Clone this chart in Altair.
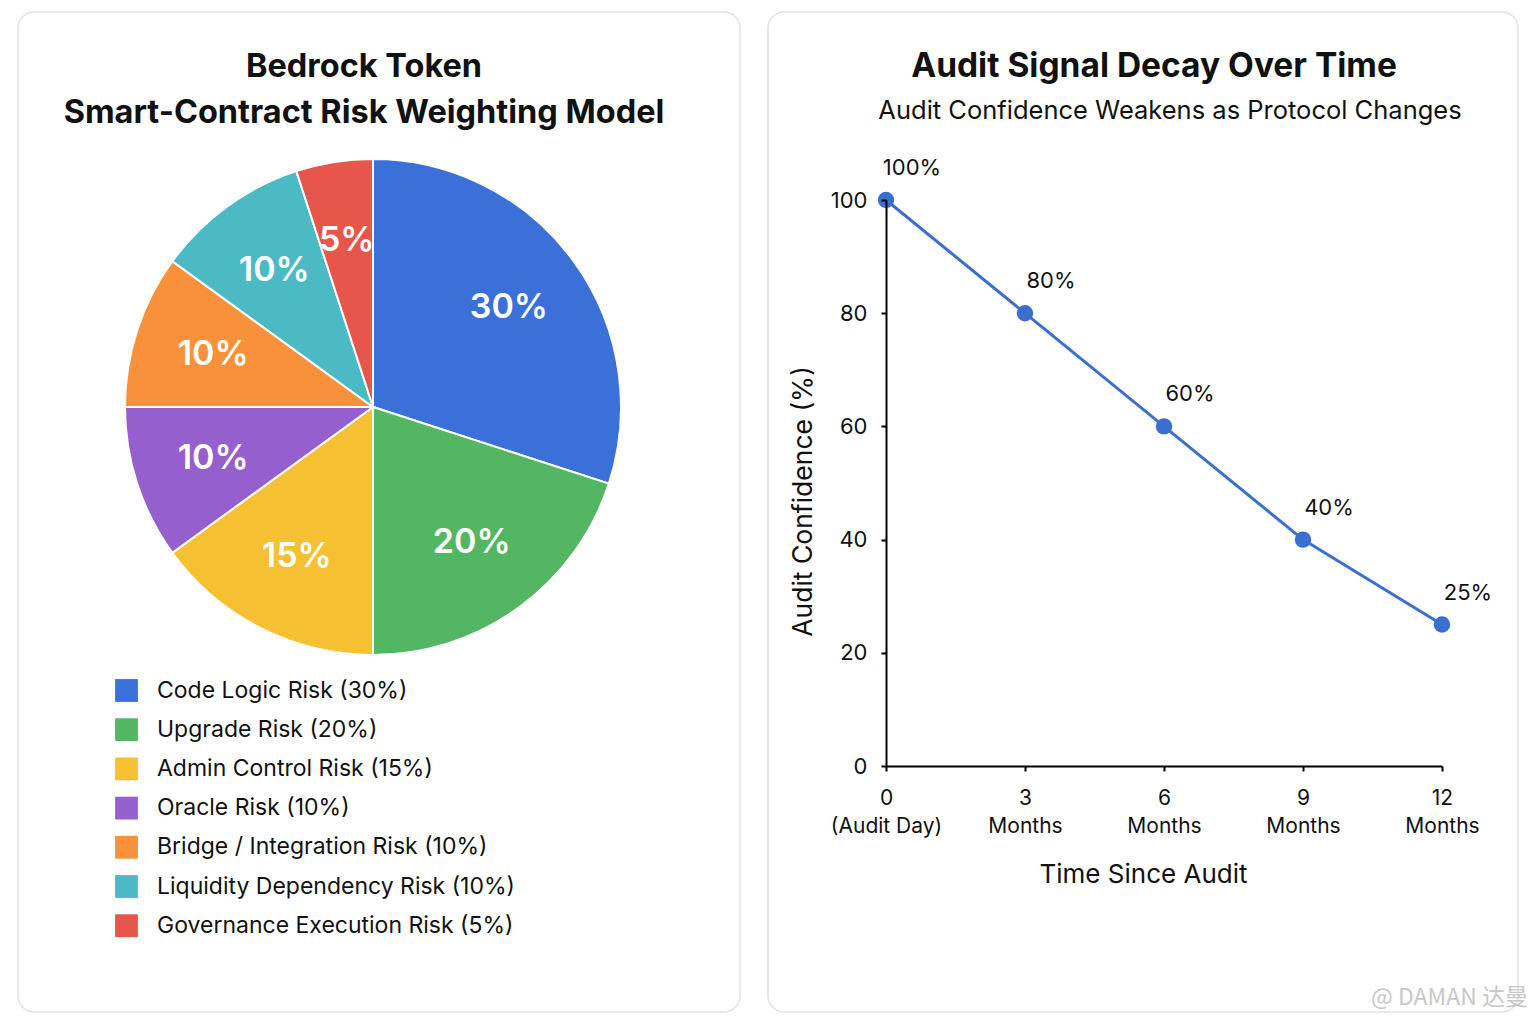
import altair as alt
import pandas as pd

# ---------------- data ----------------
risk_names = ["Code Logic Risk", "Upgrade Risk", "Admin Control Risk", "Oracle Risk",
              "Bridge / Integration Risk", "Liquidity Dependency Risk", "Governance Execution Risk"]
risk_weights = [30, 20, 15, 10, 10, 10, 5]
risk_colors = ["#3a70d8", "#52b663", "#f6c033", "#9560cd", "#f8913a", "#4cbac5", "#e6564a"]

months = [0, 3, 6, 9, 12]
confidence = [100, 80, 60, 40, 25]

pie_title = ["Bedrock Token", "Smart-Contract Risk Weighting Model"]
line_title = "Audit Signal Decay Over Time"
line_subtitle = "Audit Confidence Weakens as Protocol Changes"
watermark = "@ DAMAN 达曼"

FONT = "Inter"
INK = "#111111"
BLUE = "#3b6fcf"

legend_labels = [f"{n} ({w}%)" for n, w in zip(risk_names, risk_weights)]
pie_df = pd.DataFrame({
    "idx": list(range(len(risk_names))),
    "name": risk_names,
    "weight": risk_weights,
    "legend": legend_labels,
    "pct": [f"{w}%" for w in risk_weights],
})
line_df = pd.DataFrame({
    "month": months,
    "conf": confidence,
    "pct": [f"{c}%" for c in confidence],
})
one = pd.DataFrame({"k": [0]})

# ---------------- cards ----------------
card_left = alt.Chart(one).mark_rect(cornerRadius=16, fill="white", stroke="#e2e2e2", strokeWidth=1.5).encode(
    x=alt.value(10), x2=alt.value(732), y=alt.value(4), y2=alt.value(1004))
card_right = alt.Chart(one).mark_rect(cornerRadius=16, fill="white", stroke="#e2e2e2", strokeWidth=1.5).encode(
    x=alt.value(760), x2=alt.value(1510), y=alt.value(4), y2=alt.value(1004))

# ---------------- pie ----------------
CX, CY = 365, 399
pie_arc = alt.Chart(pie_df).mark_arc(outerRadius=248, stroke="white", strokeWidth=2).encode(
    theta=alt.Theta("weight:Q", stack=True),
    order=alt.Order("idx:Q"),
    color=alt.Color("legend:N",
                    scale=alt.Scale(domain=legend_labels, range=risk_colors),
                    sort=legend_labels,
                    legend=alt.Legend(title=None, orient="none", legendX=107, legendY=671,
                                      direction="vertical", symbolType="square", symbolSize=520,
                                      symbolStrokeWidth=0, symbolOpacity=1,
                                      labelFont=FONT, labelFontSize=23, labelColor=INK,
                                      labelOffset=19, rowPadding=15.2, labelLimit=600, padding=0)),
    x=alt.value(CX), y=alt.value(CY),
)
pie_text = alt.Chart(pie_df).mark_text(radius=168, font=FONT, fontSize=34, fontWeight=600,
                                        color="white").encode(
    theta=alt.Theta("weight:Q", stack=True),
    order=alt.Order("idx:Q"),
    text="pct:N",
    x=alt.value(CX), y=alt.value(CY),
)

title_left = alt.Chart(one).mark_text(font=FONT, fontSize=32.5, fontWeight="bold", color=INK,
                                      align="center", baseline="alphabetic", lineHeight=46).encode(
    x=alt.value(356), y=alt.value(69), text=alt.value(pie_title))

# ---------------- line chart ----------------
x_enc = alt.X("month:Q",
              scale=alt.Scale(domain=[0, 12], range=[878, 1434], nice=False, zero=False),
              axis=alt.Axis(values=months, offset=-250, grid=False, zindex=1,
                            labelOverlap=False, labelFlush=False, labelAlign="center",
                            labelExpr="datum.value == 0 ? ['0', '(Audit Day)'] : [datum.label, 'Months']",
                            domainColor="black", domainWidth=2, tickColor="black", tickSize=5,
                            tickWidth=2, labelFont=FONT, labelFontSize=21, labelColor=INK,
                            labelPadding=16, labelLineHeight=28,
                            title="Time Since Audit", titleFont=FONT, titleFontSize=26,
                            titleFontWeight="normal", titleColor=INK,
                            titleX=1135, titleY=108, titleBaseline="middle"))
y_enc = alt.Y("conf:Q",
              scale=alt.Scale(domain=[0, 100], range=[758, 192], nice=False),
              axis=alt.Axis(values=[0, 20, 40, 60, 80, 100], offset=-878, grid=False, zindex=1,
                            labelOverlap=False, labelFlush=False,
                            domainColor="black", domainWidth=2, tickColor="black", tickSize=5,
                            tickWidth=2, labelFont=FONT, labelFontSize=22, labelColor=INK,
                            labelPadding=14,
                            title="Audit Confidence (%)", titleFont=FONT, titleFontSize=26.5,
                            titleFontWeight="normal", titleColor=INK,
                            titleX=-83, titleY=493, titleBaseline="middle"))

line_base = alt.Chart(line_df).encode(x=x_enc, y=y_enc)
line = line_base.mark_line(color=BLUE, strokeWidth=3)
pts = line_base.mark_circle(color=BLUE, size=270, opacity=1)
pt_labels = line_base.mark_text(font=FONT, fontSize=22, color=INK, align="center", dx=26, dy=-32).encode(
    text="pct:N")

title_right = alt.Chart(one).mark_text(font=FONT, fontSize=33.5, fontWeight="bold", color=INK,
                                       align="center", baseline="alphabetic").encode(
    x=alt.value(1146), y=alt.value(69), text=alt.value(line_title))
subtitle_right = alt.Chart(one).mark_text(font=FONT, fontSize=25.5, color=INK,
                                          align="center", baseline="alphabetic").encode(
    x=alt.value(1162), y=alt.value(111), text=alt.value(line_subtitle))

wm = alt.Chart(one).mark_text(font="Noto Sans CJK SC", fontSize=23, color="#c8c8c8",
                              align="right", baseline="middle").encode(
    x=alt.value(1520), y=alt.value(990), text=alt.value(watermark))

chart = alt.layer(
    card_left, card_right,
    pie_arc, pie_text, title_left,
    line, pts, pt_labels, title_right, subtitle_right, wm,
).properties(
    width=1520, height=1008, autosize=alt.AutoSizeParams(type="none"), padding=0,
    background="white",
).configure_view(stroke=None)

chart.save("out.html", embed_options={"renderer": "svg", "actions": False})
